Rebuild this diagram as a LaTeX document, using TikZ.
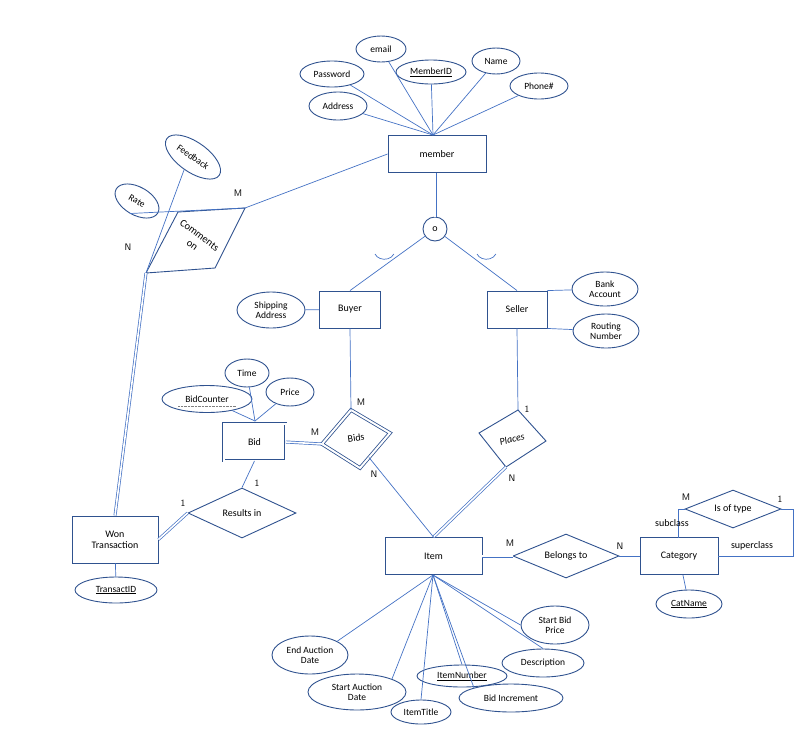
\documentclass[tikz,border=0pt]{standalone}
\usepackage{fontspec}
\setmainfont{Carlito}
\usetikzlibrary{shapes.geometric,calc}
\definecolor{ln}{HTML}{4472C4}
\definecolor{bd}{HTML}{2F528F}
\begin{document}
\begin{tikzpicture}[x=1pt,y=-1pt,font=\fontsize{10}{11}\selectfont,
 ent/.style={draw=bd,line width=0.9pt,minimum width=#1,minimum height=37pt,inner sep=1pt,align=center},
 att/.style={draw=bd,line width=0.9pt,ellipse,inner sep=0pt,align=center,font=\fontsize{9.5}{10.5}\selectfont},
 rel/.style={draw=bd,line width=0.9pt,diamond,aspect=2.2,inner sep=0pt,align=center},
 lk/.style={draw=ln,line width=0.7pt},
 dl/.style={draw=ln,line width=0.7pt,double=white,double distance=1.6pt},
 lab/.style={font=\fontsize{9.5}{10.5}\selectfont\sffamily}]
\useasboundingbox (0,0) rectangle (803,737);
% member
\node[ent=98pt] (member) at (437,154) {member};
\node[att,minimum width=50pt,minimum height=26pt] (email) at (381,49) {email};
\node[att,minimum width=64pt,minimum height=26pt] (pw) at (332,74) {Password};
\node[att,minimum width=70pt,minimum height=24pt] (mid) at (431,72) {\underline{MemberID}};
\node[att,minimum width=48pt,minimum height=26pt] (name) at (496,61) {Name};
\node[att,minimum width=58pt,minimum height=26pt] (phone) at (539,86) {Phone\#};
\node[att,minimum width=58pt,minimum height=28pt] (addr) at (338,106) {Address};
\coordinate (mt) at (433,135);
\foreach \a in {email,pw,mid,name,phone,addr} \draw[lk] (\a) -- (mt);
% specialization
\node[draw=bd,line width=0.9pt,circle,minimum size=24pt,inner sep=0pt] (o) at (435,229) {o};
\draw[dl] (member.south -| o) -- (o);
\node[ent=61pt] (buyer) at (350,309.5) {Buyer};
\node[ent=60pt] (seller) at (517,309.5) {Seller};
\draw[lk] (o) -- (buyer.north);
\draw[lk] (o) -- (seller.north);
\coordinate (s1) at (385,262);
\coordinate (s2) at (487,262);
\draw[ln,line width=0.7pt] ([shift={(-10,-8)}]s1) arc[start angle=200,end angle=340,x radius=10pt,y radius=8pt];
\draw[ln,line width=0.7pt] ([shift={(-10,-8)}]s2) arc[start angle=200,end angle=340,x radius=10pt,y radius=8pt];
\node[att,minimum width=68pt,minimum height=36pt] (ship) at (271,310) {Shipping\\Address};
\draw[lk] (ship) -- (buyer);
\node[att,minimum width=66pt,minimum height=34pt] (bank) at (605,289) {Bank\\Account};
\node[att,minimum width=66pt,minimum height=34pt] (rout) at (606,331) {Routing\\Number};
\draw[lk] (bank) -- (seller.north east);
\draw[lk] (rout) -- (seller.south east);
% Places
\coordinate (pt) at (518,410); \coordinate (pr) at (546,441);
\coordinate (pb) at (506,467); \coordinate (pl) at (479,433);
\draw[bd,line width=0.9pt] (pt) -- (pr) -- (pb) -- (pl) -- cycle;
\node[rotate=15] (places) at (512,439) {\itshape Places};
\draw[lk] (seller.south) -- (pt);
\node[lab] at (527,409) {1};
\node[lab] at (512,478) {N};
% Item
\node[ent=97pt] (item) at (433.5,556) {Item};
\draw[dl] (pb) -- (item.north);
% Bids
\coordinate (bt) at (351,410); \coordinate (br) at (390,433);
\coordinate (bb) at (360,468); \coordinate (bl) at (322,444);
\coordinate (bx) at ($(bb)!0.3!(br)$);
\draw[bd,line width=0.8pt,double=white,double distance=2pt] (bt) -- (br) -- (bb) -- (bl) -- cycle;
\node[rotate=8] (bids) at (356,438) {Bids};
\draw[lk] (buyer.south) -- (bt);
\draw[lk] (bx) -- (item.north);
\node[lab] at (361,402) {M};
\node[lab] at (374,474) {N};
% Bid
\node[draw=bd,line width=0.8pt,double=white,double distance=2pt,minimum width=62pt,minimum height=37pt] (bid) at (254.5,442) {Bid};
\draw[dl] (bid.east) -- (bl);
\node[lab] at (315,432) {M};
\node[att,minimum width=44pt,minimum height=28pt] (time) at (247,373) {Time};
\node[att,minimum width=48pt,minimum height=28pt] (price) at (290,392) {Price};
\node[att,minimum width=90pt,minimum height=27pt] (bc) at (207,399) {BidCounter};
\draw[densely dotted,gray] (178,406) -- (236,406);
\coordinate (bdt) at (255,421);
\foreach \a in {time,price,bc} \draw[lk] (\a) -- (bdt);
% Results in
\node[rel,minimum width=108pt,minimum height=50pt] (res) at (242,513) {Results in};
\draw[lk] (bid.south) -- (res.north);
\node[lab] at (257,483) {1};
\node[lab] at (183,503) {1};
\node[ent=86pt,minimum height=47pt] (won) at (115,539.5) {Won\\Transaction};
\draw[dl] (res.west) -- (won.east);
\node[att,minimum width=82pt,minimum height=26pt] (tid) at (116,590) {\underline{TransactID}};
\draw[lk] (won) -- (tid);
% Comments on
\coordinate (ct) at (245,208); \coordinate (cb) at (215,268);
\coordinate (cl) at (146,273); \coordinate (cu) at (178,212);
\draw[bd,line width=0.9pt] (ct) -- (cb) -- (cl) -- (cu) -- cycle;
\node[rotate=-37,align=center,font=\fontsize{10.5}{12}\selectfont] (com) at (196,240) {Comments\\on};
\node[att,rotate=-30,minimum width=48pt,minimum height=28pt] (rate) at (137,201) {Rate};
\node[att,rotate=-35,minimum width=64pt,minimum height=30pt] (fb) at (193,157) {Feedback};
\draw[lk] (rate.south) -- (ct);
\draw[lk] (fb.south) -- (cl);
\draw[lk] (member.west) -- (ct);
\node[lab] at (238,193) {M};
\node[lab] at (128,247) {N};
\draw[dl] (cl) -- (won.north);
% Belongs to
\node[rel,minimum width=106pt,minimum height=44pt] (bel) at (566,556) {Belongs to};
\draw[dl] (item.east) -- (bel.west);
\node[lab] at (510,543) {M};
\node[lab] at (620,546) {N};
\node[ent=78pt] (cat) at (679,556) {Category};
\draw[lk] (bel.east) -- (cat.west);
\node[att,minimum width=66pt,minimum height=28pt] (cn) at (689,604) {\underline{CatName}};
\draw[lk] (cat) -- (cn);
\node[rel,minimum width=96pt,minimum height=38pt] (iot) at (733,509) {Is of type};
\coordinate (ctop) at (678,537.5);
\coordinate (rc) at (793,509);
\draw[lk] (ctop) |- (iot.west);
\draw[lk] (iot.east) -- (rc) |- (cat.east);
\node[lab] at (686,497) {M};
\node[lab] at (780,499) {1};
\node at (672,523) {subclass};
\node at (752,546) {superclass};
% Item attributes
\node[att,minimum width=76pt,minimum height=38pt] (ead) at (310,655) {End Auction\\Date};
\node[att,minimum width=98pt,minimum height=36pt] (sad) at (357,692) {Start Auction\\Date};
\node[att,minimum width=60pt,minimum height=24pt] (it) at (421,712) {ItemTitle};
\node[att,minimum width=90pt,minimum height=22pt] (inum) at (462,676) {\underline{ItemNumber}};
\node[att,minimum width=104pt,minimum height=28pt] (binc) at (511,698) {Bid Increment};
\node[att,minimum width=82pt,minimum height=28pt] (desc) at (543,663) {Description};
\node[att,minimum width=68pt,minimum height=38pt] (sbp) at (555,625) {Start Bid\\Price};
\coordinate (ib) at (433,575);
\draw[lk] (ib) -- (ead.north east);
\draw[lk] (ib) -- (sad.north east);
\draw[lk] (ib) -- (it.north);
\draw[lk] (ib) -- (inum.north);
\draw[lk] (ib) -- (binc.north west);
\draw[lk] (ib) -- (desc.north);
\draw[lk] (ib) -- (sbp.west);
\end{tikzpicture}
\end{document}
